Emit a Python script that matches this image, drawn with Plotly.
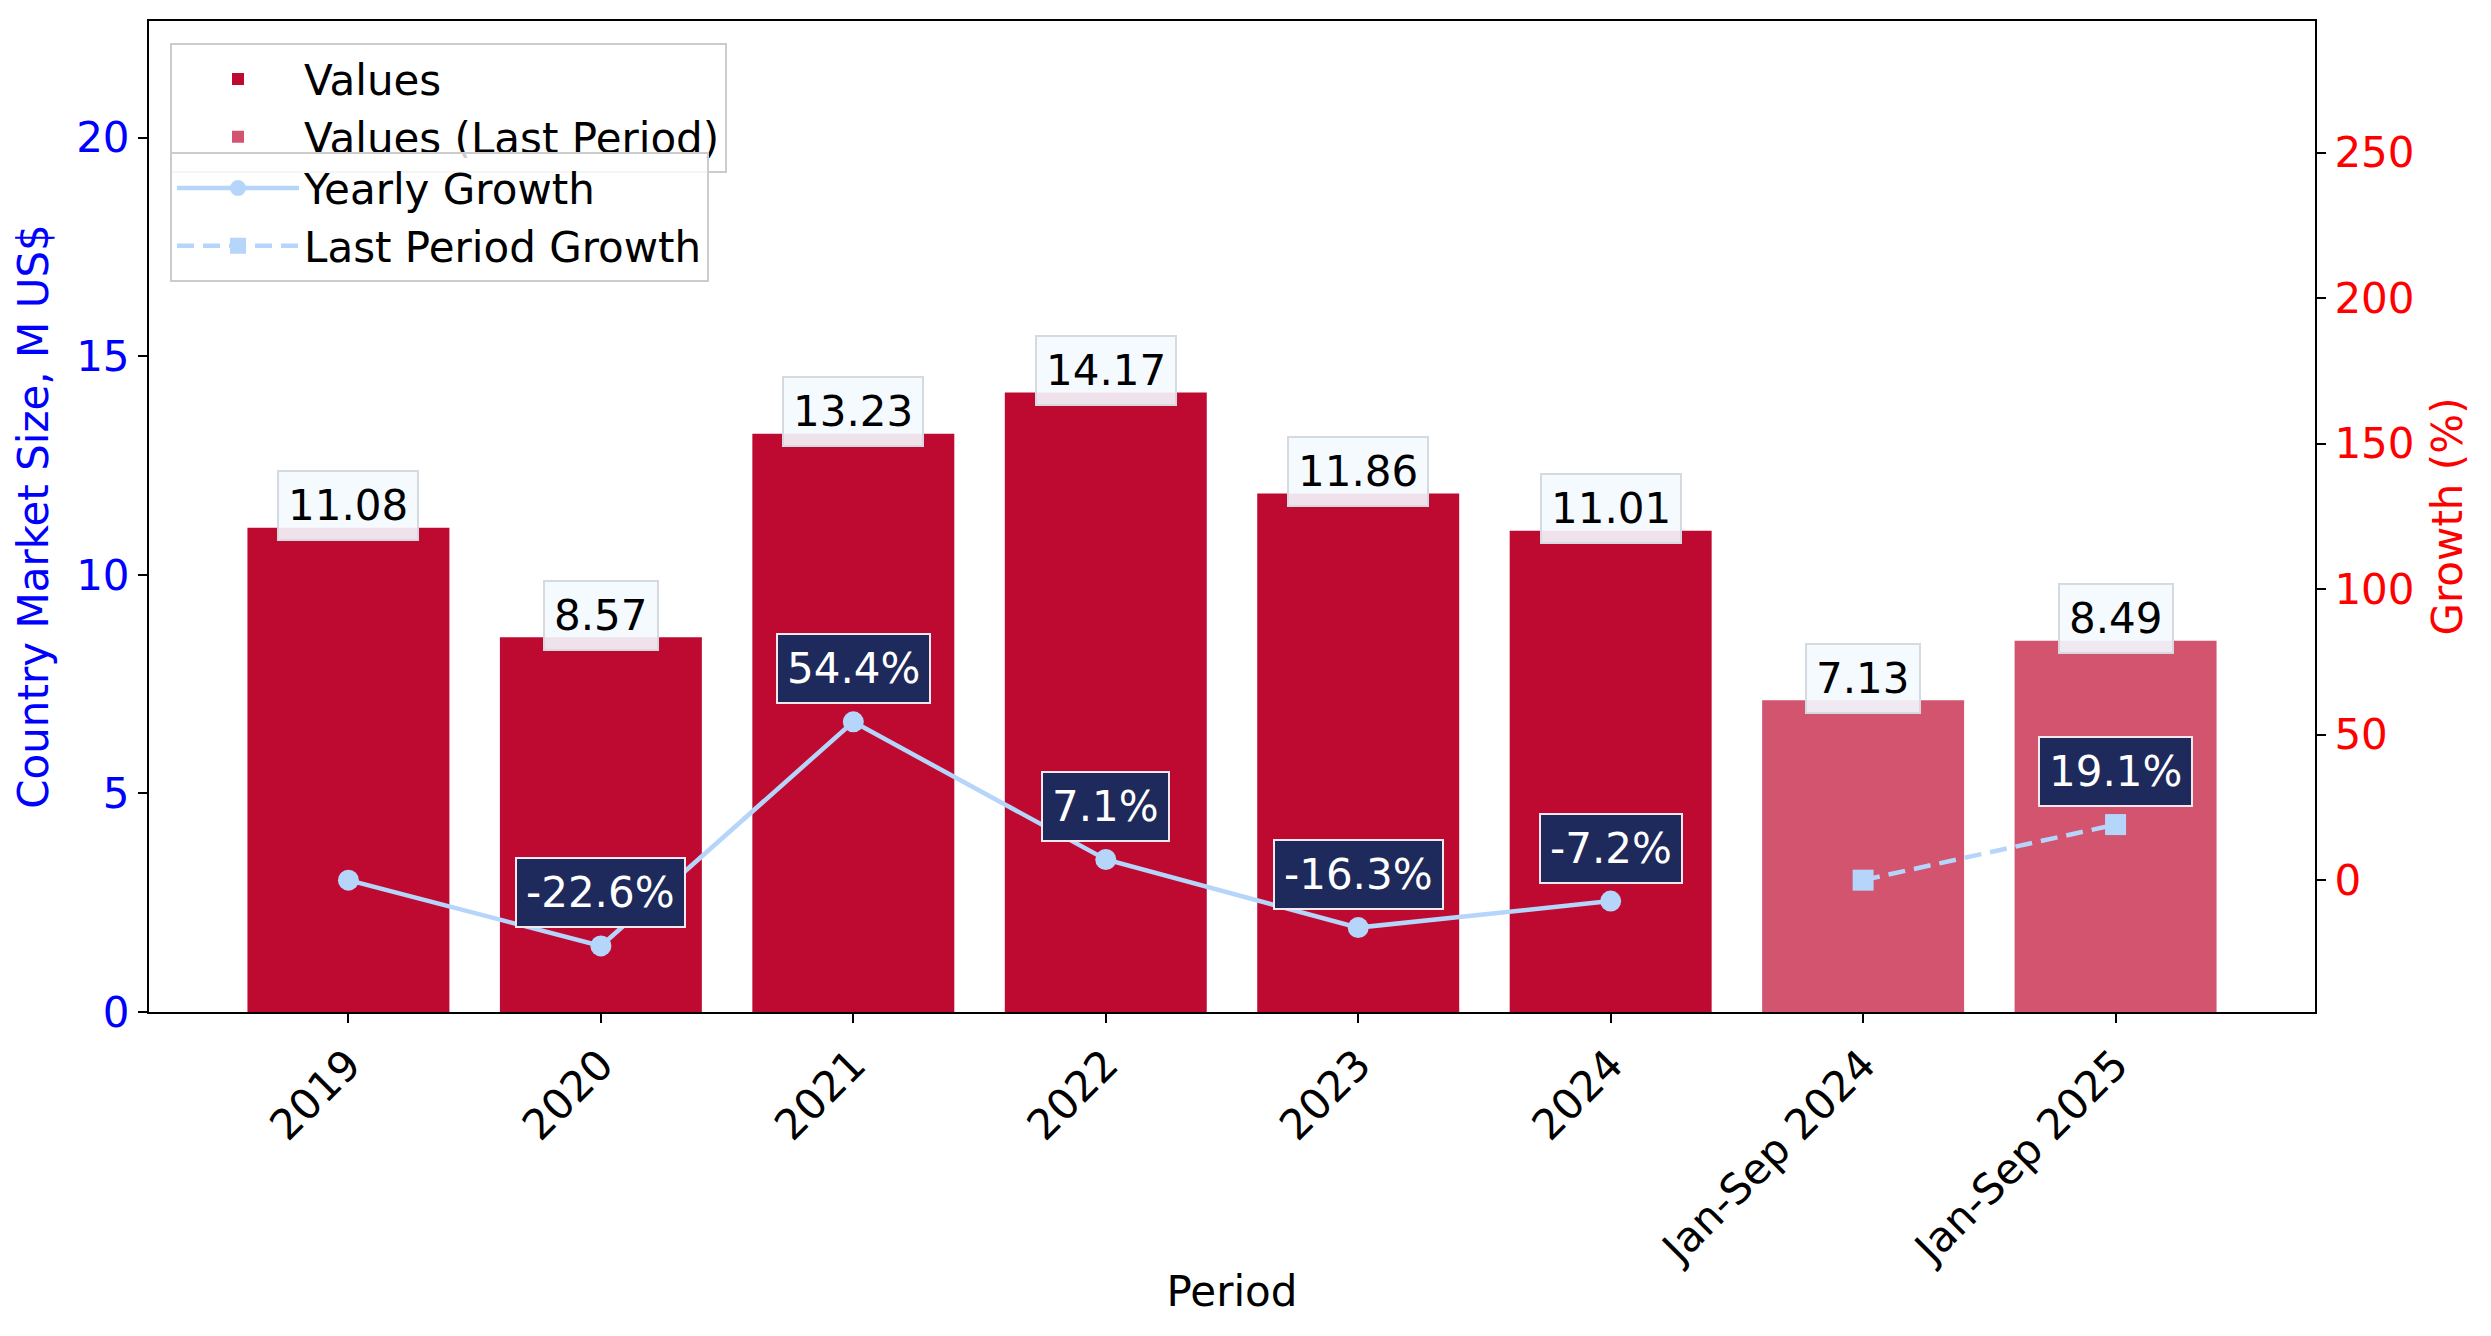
import plotly.graph_objects as go

periods = ["2019", "2020", "2021", "2022", "2023", "2024", "Jan-Sep 2024", "Jan-Sep 2025"]
values = [11.08, 8.57, 13.23, 14.17, 11.86, 11.01, 7.13, 8.49]
yearly_periods = periods[:6]
yearly_values = values[:6]
last_periods = periods[6:]
last_values = values[6:]
yearly_growth = [0.0, -22.6, 54.4, 7.1, -16.3, -7.2]
last_growth = [0.0, 19.1]

FONT = "DejaVu Sans"
FS = 42
BAR = "#BE0A30"
BAR_LAST = "#D2546E"
LINE = "#B5D5FA"
NAVY = "#1E2A5C"

fig = go.Figure()
fig.add_trace(go.Bar(x=yearly_periods, y=yearly_values, name="Values",
                     marker=dict(color=BAR, line=dict(width=0)), width=0.8, legend="legend"))
fig.add_trace(go.Bar(x=last_periods, y=last_values, name="Values (Last Period)",
                     marker=dict(color=BAR_LAST, line=dict(width=0)), width=0.8, legend="legend"))
fig.add_trace(go.Scatter(x=yearly_periods, y=yearly_growth, name="Yearly Growth", yaxis="y2",
                         mode="lines+markers", line=dict(color=LINE, width=4.5),
                         marker=dict(symbol="circle", size=21, color=LINE), legend="legend2"))
fig.add_trace(go.Scatter(x=last_periods, y=last_growth, name="Last Period Growth", yaxis="y2",
                         mode="lines+markers", line=dict(color=LINE, width=4.5, dash="17px,9px"),
                         marker=dict(symbol="square", size=21, color=LINE), legend="legend2"))

annotations = []
for p, v in zip(periods, values):
    annotations.append(dict(x=periods.index(p), y=v, xref="x", yref="y", text=f"{v:.2f}",
                            showarrow=False, yshift=22, yanchor="middle",
                            font=dict(family=FONT, size=FS, color="black"),
                            bgcolor="rgba(244,249,255,0.9)", bordercolor="#D5DAE0",
                            borderwidth=2, borderpad=9))
growth_pts = list(zip(yearly_periods[1:], yearly_growth[1:])) + list(zip(last_periods[1:], last_growth[1:]))
for p, g in growth_pts:
    annotations.append(dict(x=periods.index(p), y=g, xref="x", yref="y2", text=f"{g:.1f}%",
                            showarrow=False, yshift=53, yanchor="middle",
                            font=dict(family=FONT, size=FS, color="white"),
                            bgcolor=NAVY, bordercolor="#F4E8EC", borderwidth=2, borderpad=9))

fig.update_layout(
    width=2491, height=1336,
    margin=dict(l=149, r=176, t=21, b=324, autoexpand=False),
    paper_bgcolor="white", plot_bgcolor="white",
    font=dict(family=FONT, size=FS, color="black"),
    barmode="overlay",
    annotations=annotations,
    xaxis=dict(type="category", categoryorder="array", categoryarray=periods,
               range=[-0.79, 7.79], tickangle=-45, showline=True, linecolor="black",
               linewidth=2, mirror=True, ticks="outside", ticklen=9, tickwidth=2,
               tickcolor="black", showgrid=False, zeroline=False,
               tickfont=dict(family=FONT, size=FS, color="black"),
               title=dict(text="Period", font=dict(family=FONT, size=FS, color="black"), standoff=4)),
    yaxis=dict(range=[0, 22.67], tickvals=[0, 5, 10, 15, 20], showline=True, linecolor="black",
               linewidth=2, ticks="outside", ticklen=9, tickwidth=2, tickcolor="black",
               showgrid=False, zeroline=False,
               tickfont=dict(family=FONT, size=FS, color="blue"),
               title=dict(text="Country Market Size, M US$", font=dict(family=FONT, size=FS, color="blue"),
                          standoff=14)),
    yaxis2=dict(range=[-45.3, 295.2], tickvals=[0, 50, 100, 150, 200, 250], overlaying="y",
                side="right", showline=True, linecolor="black", linewidth=2, ticks="outside",
                ticklen=9, tickwidth=2, tickcolor="black", showgrid=False, zeroline=False,
                tickfont=dict(family=FONT, size=FS, color="red"),
                title=dict(text="Growth (%)", font=dict(family=FONT, size=FS, color="red"), standoff=19)),
    legend=dict(x=0.0097, y=0.9775, xanchor="left", yanchor="top", itemwidth=122,
                bgcolor="rgba(255,255,255,0.8)", bordercolor="#CCCCCC", borderwidth=2,
                font=dict(family=FONT, size=FS, color="black"), tracegroupgap=0),
    legend2=dict(x=0.0097, y=0.8675, xanchor="left", yanchor="top", itemwidth=122,
                 bgcolor="rgba(255,255,255,0.8)", bordercolor="#CCCCCC", borderwidth=2,
                 font=dict(family=FONT, size=FS, color="black"), tracegroupgap=0),
)

fig.write_html("out.html")
